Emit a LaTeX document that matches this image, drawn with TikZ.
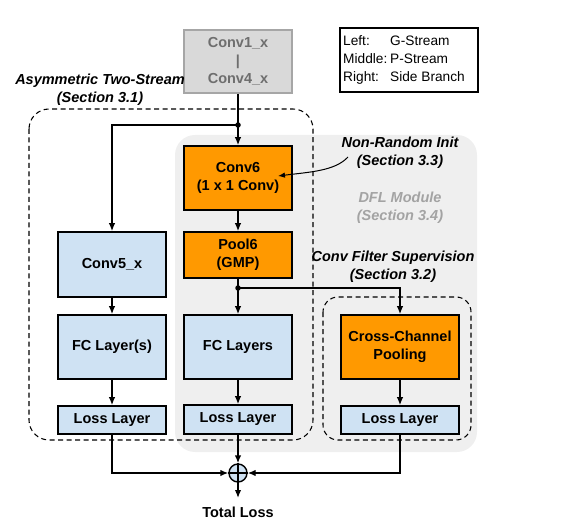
\documentclass[tikz,border=0pt]{standalone}
\usepackage{fontspec}
\setmainfont{Liberation Sans}
\usetikzlibrary{arrows.meta,calc}
\definecolor{orng}{HTML}{FF9900}
\definecolor{lblue}{HTML}{CFE2F3}
\definecolor{gbox}{HTML}{D9D9D9}
\definecolor{gboxline}{HTML}{A6A6A6}
\definecolor{gtext}{HTML}{6E6E6E}
\definecolor{dflfill}{HTML}{EFEFEF}
\definecolor{dfltext}{HTML}{A3A3A3}
\tikzset{
  px/.style={x=1pt,y=-1pt},
  blk/.style={draw=black, line width=1.6pt, minimum width=108pt, inner sep=0pt, align=center,
    font=\fontsize{14.5}{18}\selectfont\bfseries},
  bluebox/.style={blk, fill=lblue},
  orbox/.style={blk, fill=orng},
  conn/.style={line width=1.4pt, -{Latex[length=8pt,width=6.5pt]}},
  lbl/.style={align=center, inner sep=0pt, font=\fontsize{14.5}{18}\selectfont\bfseries\itshape},
  dashbox/.style={draw=black, line width=1.05pt, dash pattern=on 5pt off 3.5pt},
  jdot/.style={circle, fill=black, inner sep=0pt, minimum size=5.5pt},
}
\begin{document}
\begin{tikzpicture}[px]
\useasboundingbox (0,0) rectangle (567,526);
% DFL region
\fill[dflfill, rounded corners=20pt] (175,135) rectangle (477,452);
% dashed regions
\draw[dashbox, rounded corners=20pt] (29,109) rectangle (313,440);
\draw[dashbox, rounded corners=15pt] (323,297) rectangle (471,440);

% nodes
\node[blk, fill=gbox, draw=gboxline, line width=1.7pt, minimum height=63pt, text=gtext] (conv14) at (238,61.5) {Conv1\_x\\|\\Conv4\_x};
\node[orbox, minimum height=64pt] (conv6) at (238,178) {Conv6\\(1 x 1 Conv)};
\node[orbox, minimum height=46pt] (pool6) at (238,255) {Pool6\\(GMP)};
\node[bluebox, minimum height=65pt] (conv5) at (112,264.5) {Conv5\_x};
\node[bluebox, minimum height=64pt] (fcl) at (112,347) {FC Layer(s)};
\node[bluebox, minimum height=64pt] (fcm) at (238,347) {FC Layers};
\node[orbox, minimum height=64pt, minimum width=118pt] (ccp) at (400,347) {Cross-Channel\\Pooling};
\node[bluebox, minimum height=28pt] (lossl) at (112,420) {Loss Layer};
\node[bluebox, minimum height=29pt] (lossm) at (238,419.5) {Loss Layer};
\node[bluebox, minimum height=28pt, minimum width=118pt] (lossr) at (400,420) {Loss Layer};
\node[circle, draw=black, line width=1.4pt, fill=lblue, minimum size=18pt, inner sep=0pt] (plus) at (238,473) {};
\draw[line width=1.4pt] (plus.north) -- (plus.south) (plus.west) -- (plus.east);
\node[inner sep=0pt, font=\fontsize{14.5}{18}\selectfont\bfseries] (total) at (238,512) {Total Loss};

% legend
\node[draw=black, line width=1.1pt, minimum width=138pt, minimum height=64pt, inner sep=0pt] (legend) at (409,60) {};
\node[anchor=west, inner sep=0pt, font=\fontsize{13.7}{18}\selectfont] (legtext) at (343,60)
  {\begin{tabular}{@{}p{47pt}@{}l@{}}Left: & G-Stream\\ Middle: & P-Stream\\ Right: & Side Branch\end{tabular}};

% labels
\node[lbl] (asym) at (100,90) {Asymmetric Two-Stream\\(Section 3.1)};
\node[lbl] (nri) at (400,153) {Non-Random Init\\(Section 3.3)};
\node[lbl, text=dfltext] (dfl) at (400,208) {DFL Module\\(Section 3.4)};
\node[lbl] (cfs) at (393,266.5) {Conv Filter Supervision\\(Section 3.2)};

% connectors
\coordinate (j1) at (238,125);
\coordinate (j2) at (238,288);
\draw[conn] (conv14.south) -- (conv6.north);
\draw[conn] (j1) -| (conv5.north);
\node[jdot] (d1) at (j1) {};
\draw[conn] (conv6.south) -- (pool6.north);
\draw[conn] (pool6.south) -- (fcm.north);
\draw[conn] (j2) -| (ccp.north);
\node[jdot] (d2) at (j2) {};
\draw[conn] (conv5.south) -- (fcl.north);
\draw[conn] (fcl.south) -- (lossl.north);
\draw[conn] (fcm.south) -- (lossm.north);
\draw[conn] (ccp.south) -- (lossr.north);
\draw[conn] (lossl.south) |- (plus.west);
\draw[conn] (lossr.south) |- (plus.east);
\draw[conn] (lossm.south) -- (plus.north);
\coordinate (tl) at (238,498);
\draw[conn] (plus.south) -- (tl);
\coordinate (nrs) at (348,157);
\coordinate (nre) at (278,176);
\draw[line width=1pt, -{Latex[length=7pt,width=5.5pt]}] (nrs) .. controls (335,171) and (310,172) .. (nre);
\end{tikzpicture}
\end{document}
